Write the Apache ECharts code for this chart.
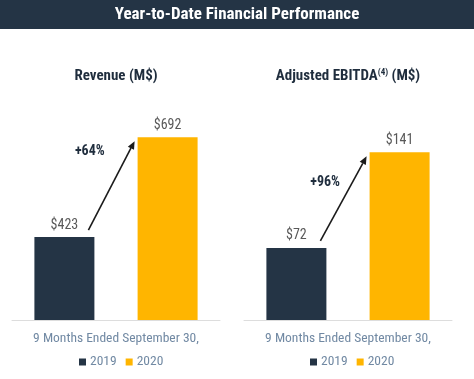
<!DOCTYPE html>
<html><head><meta charset="utf-8">
<script src="https://cdn.jsdelivr.net/npm/echarts@6/dist/echarts.min.js"></script>
<style>html,body{margin:0;padding:0;background:#fff}#c{width:474px;height:379px}</style>
</head><body><div id="c"></div>
<script>
// ---- data ----
const categories = ['9 Months Ended September 30,'];
const seriesNames = ['2019', '2020'];
const revenue2019 = [423];
const revenue2020 = [692];
const ebitda2019 = [72];
const ebitda2020 = [141];
const growthLabels = ['+64%', '+96%'];
const panelTitles = ['Revenue (M$)', '{a|Adjusted EBITDA}{s|(4)}{a| (M$)}'];
const mainTitle = 'Year-to-Date Financial Performance';

// ---- style ----
const F = '"Liberation Sans Narrow", "Roboto Condensed", "DejaVu Sans Condensed", Arial, sans-serif';
const NAVY = '#243445';
const GOLD = '#FFB500';
const SOFT = '#7189a3';

const chart = echarts.init(document.getElementById('c'), null, {renderer: 'canvas'});

function barSeries(name, data, idx, color) {
  return {
    name: name, type: 'bar', xAxisIndex: idx, yAxisIndex: idx, data: data,
    barWidth: 60, barGap: '72%',
    itemStyle: {color: color},
    label: {show: true, position: 'top', distance: 5, formatter: p => '$' + p.value,
      color: '#595959', fontSize: 14, fontFamily: F}
  };
}
function xAx(idx) {
  return {type: 'category', gridIndex: idx, data: categories,
    axisLine: {lineStyle: {color: '#dddddd', width: 1}}, axisTick: {show: false},
    axisLabel: {color: SOFT, fontSize: 13.5, fontFamily: F, margin: 12}};
}
function leg(x) {
  return {data: seriesNames, left: x, top: 355, padding: 0, icon: 'rect', itemWidth: 7, itemHeight: 7, itemGap: 9,
    textStyle: {color: SOFT, fontSize: 13.5, fontFamily: F, padding: [0, 0, 0, -1]}, selectedMode: false};
}

chart.setOption({
  animation: false,
  grid: [
    {left: 12, width: 208, top: 97, bottom: 59},
    {left: 244, width: 208, top: 126, bottom: 59}
  ],
  xAxis: [xAx(0), xAx(1)],
  yAxis: [
    {type: 'value', gridIndex: 0, min: 200, max: 800, show: false},
    {type: 'value', gridIndex: 1, min: 20, max: 160, show: false}
  ],
  legend: [leg(79), leg(310)],
  series: [
    barSeries(seriesNames[0], revenue2019, 0, NAVY),
    barSeries(seriesNames[1], revenue2020, 0, GOLD),
    barSeries(seriesNames[0], ebitda2019, 1, NAVY),
    barSeries(seriesNames[1], ebitda2020, 1, GOLD)
  ],
  graphic: [
    {type: 'rect', id: 'hdr', shape: {x: 0, y: 0, width: 474, height: 29}, style: {fill: NAVY}, z: 0},
    {type: 'text', id: 'ttl', x: 237, y: 15, z: 1, style: {text: mainTitle, textAlign: 'center', textVerticalAlign: 'middle',
      fill: '#ffffff', font: 'bold 17px ' + F}},
    {type: 'text', id: 'pt0', x: 116, y: 76, style: {text: panelTitles[0], textAlign: 'center', textVerticalAlign: 'middle',
      fill: '#1f2d3d', font: 'bold 15px ' + F}},
    {type: 'text', id: 'pt1', x: 348, y: 76, style: {text: panelTitles[1], textAlign: 'center', textVerticalAlign: 'middle',
      rich: {a: {fill: '#1f2d3d', fontWeight: 'bold', fontSize: 15, fontFamily: F},
             s: {fill: '#1f2d3d', fontWeight: 'bold', fontSize: 9, fontFamily: F, padding: [0, 0, 7, 0]}}}}
  ]
});

// ---- growth arrows derived from bar layouts ----
function layoutOf(si) {
  const l = chart.getModel().getSeriesByIndex(si).getData().getItemLayout(0);
  const top = Math.min(l.y, l.y + l.height);
  return {left: l.x, right: l.x + l.width, top: top};
}
function arrow(id, x1, y1, x2, y2) {
  const dx = x2 - x1, dy = y2 - y1, L = Math.hypot(dx, dy), ux = dx / L, uy = dy / L;
  const hl = 8, hw = 3.5, bx = x2 - ux * hl, by = y2 - uy * hl;
  return [
    {type: 'line', id: id + 'l', shape: {x1: x1, y1: y1, x2: bx, y2: by}, style: {stroke: '#1b1b1b', lineWidth: 1.6}},
    {type: 'polygon', id: id + 'h', shape: {points: [[x2, y2], [bx - uy * hw, by + ux * hw], [bx + uy * hw, by - ux * hw]]},
      style: {fill: '#1b1b1b'}}
  ];
}
const labelOffsets = [[-4.6, 14.4], [-1.3, 30]];
const g = [];
[[0, 1], [2, 3]].forEach((pair, i) => {
  const a = layoutOf(pair[0]), b = layoutOf(pair[1]);
  g.push(...arrow('ar' + i, a.right - 6, a.top - 7, b.left - 3, b.top + 4));
  g.push({type: 'text', id: 'gl' + i, x: a.right + labelOffsets[i][0], y: b.top + labelOffsets[i][1],
    style: {text: growthLabels[i], textAlign: 'center', textVerticalAlign: 'middle', fill: '#1f2d3d', font: 'bold 14px ' + F}});
});
chart.setOption({graphic: g});
</script>
</body></html>
